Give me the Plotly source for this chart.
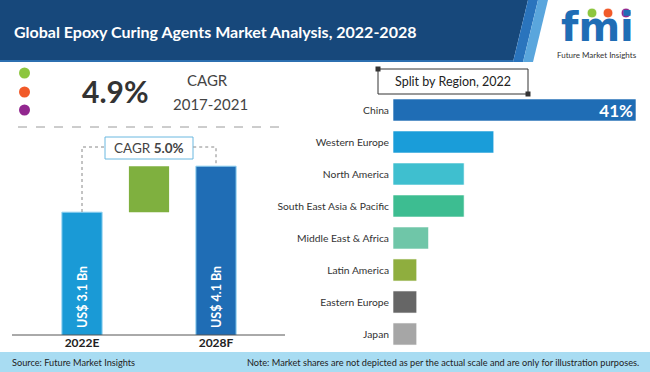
import plotly.graph_objects as go

# ---------------- data ----------------
title_text = "Global Epoxy Curing Agents Market Analysis, 2022-2028"
hist_cagr = "4.9%"
hist_period = "2017-2021"
fc_cagr = "5.0%"

years = ["2022E", "CAGR", "2028F"]
market_start = 3.1
market_end = 4.1
value_labels = ["US$ 3.1 Bn", "US$ 4.1 Bn"]

regions = ["China", "Western Europe", "North America", "South East Asia & Pacific",
           "Middle East & Africa", "Latin America", "Eastern Europe", "Japan"]
shares = [41, 17, 12, 12, 6, 4, 4, 4]
share_text = ["41%", "", "", "", "", "", "", ""]
region_colors = ["#1f6db5", "#1a9dd9", "#3fbfcf", "#3dbd91", "#6fc6a8",
                 "#8fae3e", "#666666", "#a6a6a6"]

source_text = "Source: Future Market Insights"
note_text = "Note: Market shares are not depicted as per the actual scale and are only for illustration purposes."

W, H = 650, 372
FONT = "Lato"


def px(x):
    return x / W


def py(y):
    return 1 - y / H


fig = go.Figure()

# ---- left: market size bars ----
fig.add_trace(go.Bar(
    x=[years[0], years[2]], y=[market_start, market_end],
    marker=dict(color=["#1a9ad6", "#1f6db5"], line=dict(color="#8fd0f0", width=1)),
    width=0.6, xaxis="x", yaxis="y", showlegend=False, hoverinfo="skip",
))
fig.add_trace(go.Bar(
    x=[years[1]], y=[market_end - market_start], base=[market_start],
    marker=dict(color="#7fb03f", line=dict(width=0)),
    width=0.6, xaxis="x", yaxis="y", showlegend=False, hoverinfo="skip",
))

# ---- right: region split ----
fig.add_trace(go.Bar(
    x=shares, y=regions, orientation="h",
    marker=dict(color=region_colors, line=dict(color="rgba(255,255,255,0.6)", width=1)),
    width=0.69, text=[f"<b>{t}</b>" if t else "" for t in share_text],
    textposition="inside", insidetextanchor="end",
    constraintext="none",
    textfont=dict(family=FONT, size=17, color="white"),
    xaxis="x2", yaxis="y2", showlegend=False, hoverinfo="skip",
))

shapes = []
# header
shapes.append(dict(type="path", xref="paper", yref="paper",
                   path=f"M 0 {py(0)} L {px(528)} {py(0)} L {px(513)} {py(62)} L 0 {py(62)} Z",
                   fillcolor="#17487b", line=dict(width=0), layer="below"))
shapes.append(dict(type="path", xref="paper", yref="paper",
                   path=f"M {px(528)} {py(0)} L {px(538)} {py(0)} L {px(523)} {py(62)} L {px(513)} {py(62)} Z",
                   fillcolor="#2a74bd", line=dict(width=0), layer="below"))
shapes.append(dict(type="path", xref="paper", yref="paper",
                   path=f"M {px(538)} {py(0)} L {px(548)} {py(0)} L {px(533)} {py(62)} L {px(523)} {py(62)} Z",
                   fillcolor="#5aa6dd", line=dict(width=0), layer="below"))
shapes.append(dict(type="line", xref="paper", yref="paper",
                   x0=0, x1=px(513), y0=py(61), y1=py(61),
                   line=dict(color="#2c6fb0", width=2)))
# footer
shapes.append(dict(type="rect", xref="paper", yref="paper",
                   x0=0, x1=1, y0=0, y1=py(352),
                   fillcolor="#a8dcf2", line=dict(width=0), layer="below"))
# dots
for yy, c in [(73, "#8dc63f"), (92, "#f15a29"), (110, "#92278f")]:
    shapes.append(dict(type="circle", xref="paper", yref="paper",
                       x0=px(19), x1=px(30), y0=py(yy - 5.5), y1=py(yy + 5.5),
                       fillcolor=c, line=dict(width=0)))
# dashed separator
shapes.append(dict(type="line", xref="paper", yref="paper",
                   x0=px(18), x1=px(286), y0=py(127), y1=py(127),
                   line=dict(color="#9a9a9a", width=1, dash="dash")))
# baseline
shapes.append(dict(type="line", xref="paper", yref="paper",
                   x0=px(12), x1=px(285), y0=py(335), y1=py(335),
                   line=dict(color="#555555", width=1)))
# CAGR box and connectors
shapes.append(dict(type="rect", xref="paper", yref="paper",
                   x0=px(105), x1=px(193), y0=py(137), y1=py(159),
                   line=dict(color="#6bb8e0", width=1), fillcolor="white"))
shapes.append(dict(type="path", xref="x", yref="paper",
                   path=f"M 0 {py(212)} L 0 {py(147)} L 0.34 {py(147)}",
                   line=dict(color="#888888", width=1, dash="dot")))
shapes.append(dict(type="path", xref="x", yref="paper",
                   path=f"M 1.66 {py(147)} L 2 {py(147)} L 2 {py(166)}",
                   line=dict(color="#888888", width=1, dash="dot")))
# split by region box
shapes.append(dict(type="rect", xref="paper", yref="paper",
                   x0=px(378), x1=px(528), y0=py(94), y1=py(69),
                   line=dict(color="#333333", width=1), fillcolor="white"))
for (cx, cy) in [(378, 69), (528, 94)]:
    shapes.append(dict(type="rect", xref="paper", yref="paper",
                       x0=px(cx - 2.5), x1=px(cx + 2.5), y0=py(cy + 2.5), y1=py(cy - 2.5),
                       fillcolor="#333333", line=dict(width=0)))

ann = []


def A(text, x, y, size, color="#333333", bold=False, xanchor="center", yanchor="middle", angle=0,
      xref="paper", yref="paper", family=FONT):
    t = f"<b>{text}</b>" if bold else text
    ann.append(dict(text=t, x=x, y=y, xref=xref, yref=yref, showarrow=False,
                    font=dict(family=family, size=size, color=color),
                    xanchor=xanchor, yanchor=yanchor, textangle=angle))


A(title_text, px(12), py(31), 16, "white", bold=True, xanchor="left")
A(hist_cagr, px(116), py(91), 30, "#333333", bold=True)
A("CAGR", px(207), py(80), 15, "#444444")
A(hist_period, px(210), py(104), 15, "#444444")
A(f"CAGR <b>{fc_cagr}</b>", px(149), py(148), 13.5, "#444444")
A(value_labels[0], years[0], py(297), 12.5, "white", bold=True, angle=-90, xref="x")
A(value_labels[1], years[2], py(297), 12.5, "white", bold=True, angle=-90, xref="x")
A("Split by Region, 2022", px(453), py(81.5), 12.5, "#222222")
A("fmi", px(597), py(27), 40, "#1f6db5", bold=True, family="DejaVu Sans")
A("Future Market Insights", px(597), py(55.5), 8, "#333333")
A(source_text, px(10), py(362), 9.2, "#222222", xanchor="left")
A(note_text, px(245), py(362), 9.2, "#222222", xanchor="left")

fig.update_layout(
    width=W, height=H, margin=dict(l=0, r=0, t=0, b=0),
    paper_bgcolor="white", plot_bgcolor="rgba(0,0,0,0)",
    barmode="overlay", shapes=shapes, annotations=ann,
    xaxis=dict(domain=[px(48.5), px(249.5)], range=[-0.5, 2.5], type="category",
               categoryorder="array", categoryarray=years,
               tickmode="array", tickvals=[years[0], years[2]],
               ticktext=[f"<b>{years[0]}</b>", f"<b>{years[2]}</b>"],
               tickfont=dict(family=FONT, size=12, color="#222222"),
               ticklabelstandoff=-1, showgrid=False, zeroline=False, showline=False,
               anchor="y", fixedrange=True),
    yaxis=dict(domain=[py(335), py(127)], range=[0.43, 0.43 + 208 / 46],
               visible=False, showgrid=False, zeroline=False, anchor="x"),
    xaxis2=dict(domain=[px(393), px(636)], range=[0, 41], visible=False,
                showgrid=False, zeroline=False, anchor="y2"),
    yaxis2=dict(domain=[py(350), py(94)], range=[7.5, -0.5], type="category",
                categoryorder="array", categoryarray=regions,
                tickfont=dict(family=FONT, size=10.3, color="#333333"),
                ticklabelstandoff=3, ticks="", showgrid=False, zeroline=False,
                showline=False, anchor="x2"),
)

# logo dots (drawn above the logo text)
for xx, c in [(592, "#8dc63f"), (608, "#f15a29"), (626, "#92278f")]:
    fig.add_shape(type="circle", xref="paper", yref="paper",
                  x0=px(xx - 5), x1=px(xx + 5), y0=py(8), y1=py(18),
                  fillcolor=c, line=dict(color="white", width=1), layer="above")

fig.write_html("out.html", config={"displayModeBar": False},
               post_script="document.body.style.margin='0';document.body.style.padding='0';")
